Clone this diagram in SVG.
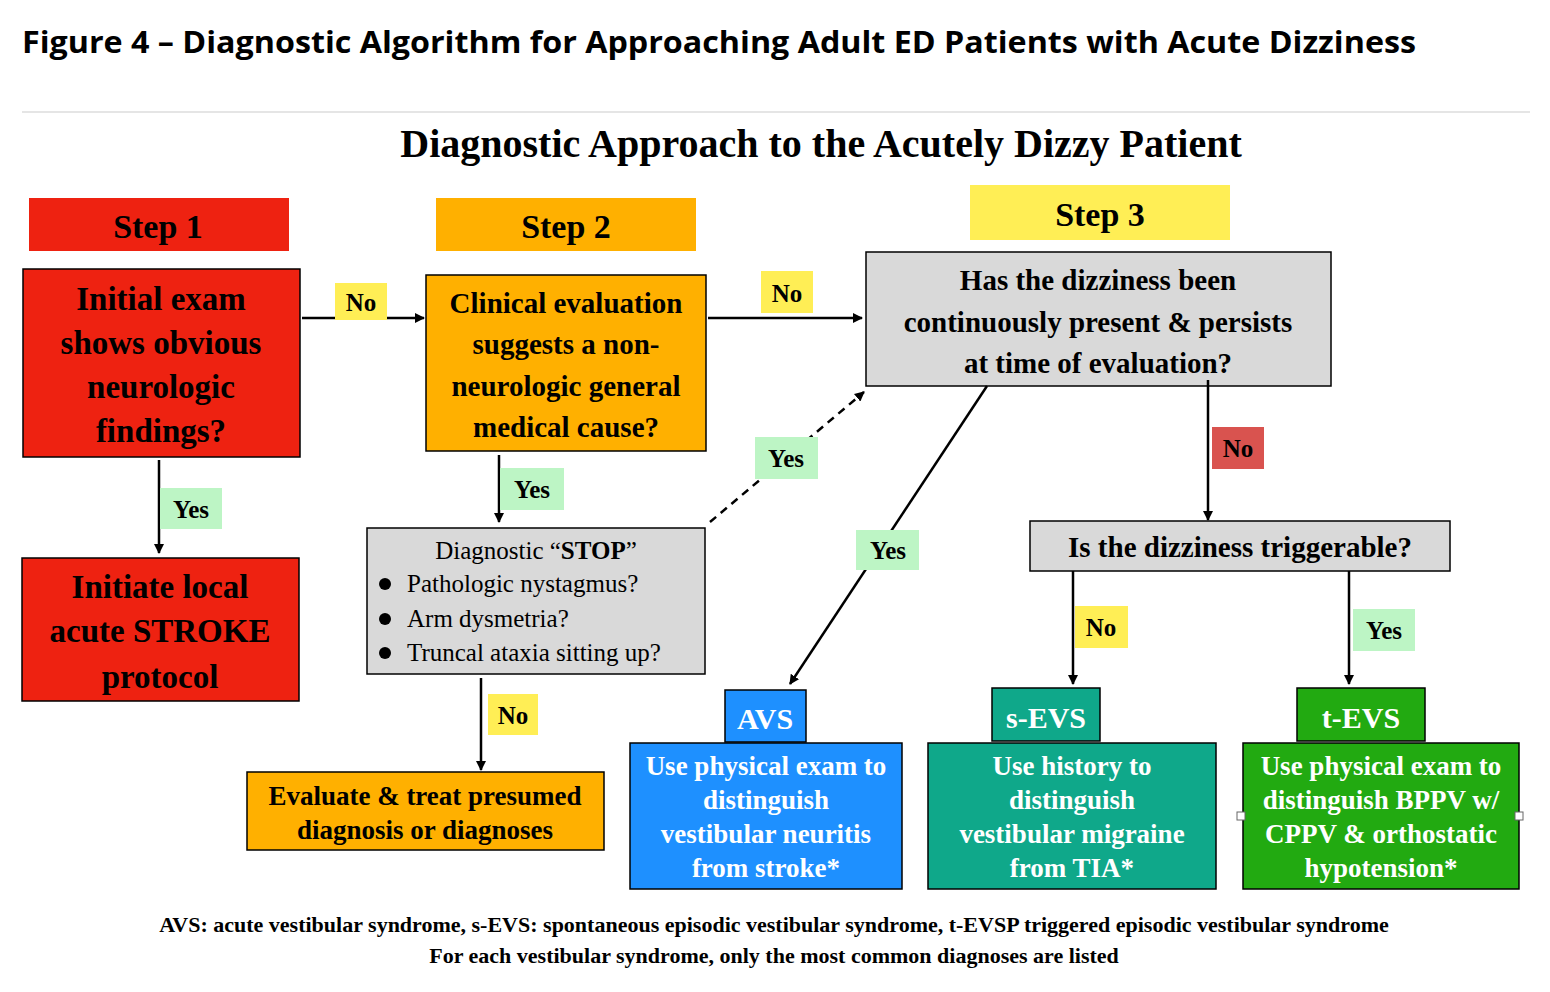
<svg xmlns="http://www.w3.org/2000/svg" width="1550" height="992" viewBox="0 0 1550 992">
<defs>
<marker id="ah" markerWidth="10" markerHeight="10" refX="9" refY="5" orient="auto" markerUnits="userSpaceOnUse"><path d="M0,0 L10,5 L0,10 z" fill="#000"/></marker>
<style>
.s{font-family:"Liberation Serif","Times New Roman",serif;font-weight:bold;text-anchor:middle}
.n{font-family:"Liberation Serif","Times New Roman",serif;text-anchor:start}
.b{stroke:#000;stroke-width:1.5}
.w{fill:#fff}
.c{stroke:#000;stroke-width:2.5;fill:none;marker-end:url(#ah)}
.y{fill:#FFEE55}.g{fill:#BDF5C5}
</style>
</defs>
<rect width="1550" height="992" fill="#fff"/>
<text x="22" y="53" font-family="'Open Sans','Liberation Sans',sans-serif" font-weight="bold" font-size="30" textLength="1394" lengthAdjust="spacingAndGlyphs">Figure 4 – Diagnostic Algorithm for Approaching Adult ED Patients with Acute Dizziness</text>
<line x1="22" y1="112" x2="1530" y2="112" stroke="#ddd" stroke-width="1.5"/>
<text x="821" y="157" class="s" font-size="40">Diagnostic Approach to the Acutely Dizzy Patient</text>

<g id="step1"><rect x="29" y="198" width="260" height="53" fill="#EE2211"/><text x="158" y="238" class="s" font-size="34">Step 1</text></g>
<g id="step2"><rect x="436" y="198" width="260" height="53" fill="#FFB000"/><text x="566" y="238" class="s" font-size="34">Step 2</text></g>
<g id="step3"><rect x="970" y="185" width="260" height="55" fill="#FFEE55"/><text x="1100" y="226" class="s" font-size="34">Step 3</text></g>

<g id="box1"><rect x="23" y="269" width="277" height="188" fill="#EE2211" class="b"/>
<text class="s" font-size="33"><tspan x="161" y="310">Initial exam</tspan><tspan x="161" y="354">shows obvious</tspan><tspan x="161" y="398">neurologic</tspan><tspan x="161" y="442">findings?</tspan></text></g>
<g id="stroke"><rect x="22" y="558" width="277" height="143" fill="#EE2211" class="b"/>
<text class="s" font-size="33"><tspan x="160" y="598">Initiate local</tspan><tspan x="160" y="642">acute STROKE</tspan><tspan x="160" y="688">protocol</tspan></text></g>
<g id="box2"><rect x="426" y="275" width="280" height="176" fill="#FFB000" class="b"/>
<text class="s" font-size="29"><tspan x="566" y="313">Clinical evaluation</tspan><tspan x="566" y="354">suggests a non-</tspan><tspan x="566" y="396">neurologic general</tspan><tspan x="566" y="437">medical cause?</tspan></text></g>
<g id="stop"><rect x="367" y="528" width="338" height="146" fill="#D9D9D9" class="b"/>
<text x="536" y="559" font-family="'Liberation Serif',serif" font-size="25" text-anchor="middle">Diagnostic “<tspan font-weight="bold">STOP</tspan>”</text>
<circle cx="385" cy="584" r="6"/><circle cx="385" cy="619" r="6"/><circle cx="385" cy="653" r="6"/>
<text class="n" font-size="25"><tspan x="407" y="592">Pathologic nystagmus?</tspan><tspan x="407" y="627">Arm dysmetria?</tspan><tspan x="407" y="661">Truncal ataxia sitting up?</tspan></text></g>
<g id="evaluate"><rect x="247" y="772" width="357" height="78" fill="#FFB000" class="b"/>
<text class="s" font-size="27"><tspan x="425" y="805">Evaluate &amp; treat presumed</tspan><tspan x="425" y="839">diagnosis or diagnoses</tspan></text></g>
<g id="q3"><rect x="866" y="252" width="465" height="134" fill="#D9D9D9" class="b"/>
<text class="s" font-size="29"><tspan x="1098" y="290">Has the dizziness been</tspan><tspan x="1098" y="332">continuously present &amp; persists</tspan><tspan x="1098" y="373">at time of evaluation?</tspan></text></g>
<g id="trig"><rect x="1030" y="521" width="420" height="50" fill="#D9D9D9" class="b"/>
<text x="1240" y="557" class="s" font-size="29">Is the dizziness triggerable?</text></g>

<g id="avs"><rect x="725" y="690" width="81" height="52" fill="#1E90FF" class="b"/><text x="765" y="729" class="s w" font-size="30">AVS</text>
<rect x="630" y="743" width="272" height="146" fill="#1E90FF" class="b"/>
<text class="s w" font-size="27"><tspan x="766" y="775">Use physical exam to</tspan><tspan x="766" y="809">distinguish</tspan><tspan x="766" y="843">vestibular neuritis</tspan><tspan x="766" y="877">from stroke*</tspan></text></g>
<g id="sevs"><rect x="992" y="688" width="108" height="53" fill="#0FA88A" class="b"/><text x="1046" y="728" class="s w" font-size="30">s-EVS</text>
<rect x="928" y="743" width="288" height="146" fill="#0FA88A" class="b"/>
<text class="s w" font-size="27"><tspan x="1072" y="775">Use history to</tspan><tspan x="1072" y="809">distinguish</tspan><tspan x="1072" y="843">vestibular migraine</tspan><tspan x="1072" y="877">from TIA*</tspan></text></g>
<g id="tevs"><rect x="1297" y="688" width="128" height="53" fill="#22AA11" class="b"/><text x="1361" y="728" class="s w" font-size="30">t-EVS</text>
<rect x="1243" y="743" width="276" height="146" fill="#22AA11" class="b"/>
<text class="s w" font-size="27"><tspan x="1381" y="775">Use physical exam to</tspan><tspan x="1381" y="809">distinguish BPPV w/</tspan><tspan x="1381" y="843">CPPV &amp; orthostatic</tspan><tspan x="1381" y="877">hypotension*</tspan></text>
<rect x="1237" y="812" width="8" height="8" fill="#fff" stroke="#666"/><rect x="1515" y="812" width="8" height="8" fill="#fff" stroke="#666"/></g>

<g id="connectors">
<line x1="302" y1="318" x2="424" y2="318" class="c"/>
<line x1="708" y1="318" x2="862" y2="318" class="c"/>
<line x1="159" y1="460" x2="159" y2="553" class="c"/>
<line x1="499" y1="455" x2="499" y2="522" class="c"/>
<line x1="710" y1="522" x2="864" y2="392" class="c" stroke-dasharray="8,6"/>
<line x1="987" y1="386" x2="790" y2="684" class="c"/>
<line x1="1208" y1="380" x2="1208" y2="520" class="c"/>
<line x1="1073" y1="571" x2="1073" y2="684" class="c"/>
<line x1="1349" y1="571" x2="1349" y2="684" class="c"/>
<line x1="481" y1="678" x2="481" y2="770" class="c"/>
</g>
<g id="labels">
<rect x="335" y="283" width="52" height="37" class="y"/><text x="361" y="311" class="s" font-size="25">No</text>
<rect x="761" y="271" width="52" height="42" class="y"/><text x="787" y="302" class="s" font-size="25">No</text>
<rect x="160" y="488" width="62" height="41" class="g"/><text x="191" y="518" class="s" font-size="25">Yes</text>
<rect x="500" y="468" width="64" height="42" class="g"/><text x="532" y="498" class="s" font-size="25">Yes</text>
<rect x="755" y="437" width="63" height="42" class="g"/><text x="786" y="467" class="s" font-size="25">Yes</text>
<rect x="856" y="530" width="63" height="40" class="g"/><text x="888" y="559" class="s" font-size="25">Yes</text>
<rect x="1353" y="609" width="62" height="42" class="g"/><text x="1384" y="639" class="s" font-size="25">Yes</text>
<rect x="488" y="694" width="50" height="41" class="y"/><text x="513" y="724" class="s" font-size="25">No</text>
<rect x="1075" y="606" width="53" height="42" class="y"/><text x="1101" y="636" class="s" font-size="25">No</text>
<rect x="1212" y="427" width="52" height="42" fill="#D9534F"/><text x="1238" y="457" class="s" font-size="25">No</text>
</g>
<text class="s" font-size="22"><tspan x="774" y="932">AVS: acute vestibular syndrome, s-EVS: spontaneous episodic vestibular syndrome, t-EVSP triggered episodic vestibular syndrome</tspan><tspan x="774" y="963">For each vestibular syndrome, only the most common diagnoses are listed</tspan></text>
</svg>
